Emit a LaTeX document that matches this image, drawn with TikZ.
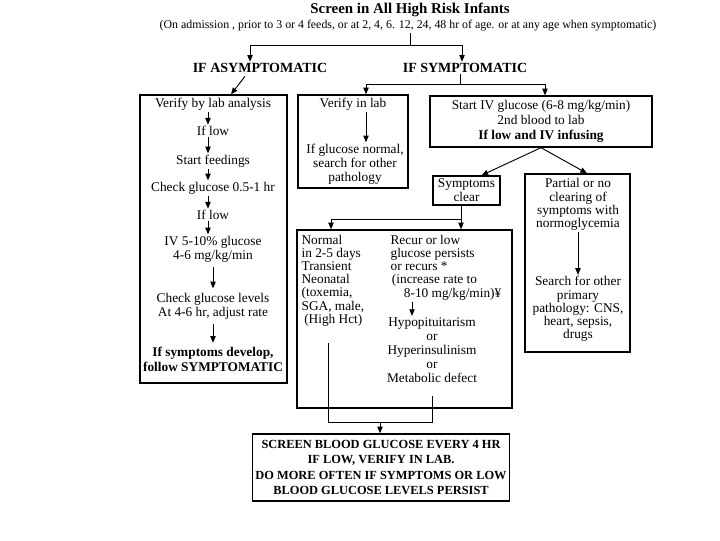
\documentclass[tikz,border=0pt]{standalone}
\usepackage{fontspec}
\setmainfont{Liberation Serif}
\usetikzlibrary{arrows.meta,calc}
\newcommand\bodyf{\fontsize{10}{10.5}\selectfont}
\newcommand\colf{\fontsize{10}{9.9}\selectfont}
\newcommand\titlef{\fontsize{11.2}{13}\selectfont\bfseries}
\newcommand\subf{\fontsize{8.9}{10}\selectfont}
\newcommand\headf{\fontsize{10.5}{12}\selectfont\bfseries}
\newcommand\botf{\fontsize{9.3}{11.5}\selectfont\bfseries}
\begin{document}
\begin{tikzpicture}[x=0.75pt,y=-0.75pt,
  box/.style={draw, line width=1pt, inner sep=2pt, align=center},
  txt/.style={inner sep=1pt, align=center},
  arr/.style={-{Triangle[length=5pt,width=4pt]}, line width=0.7pt},
  ln/.style={line width=0.7pt}]
\useasboundingbox[fill=white] (0,0) rectangle (720,540);

% headings
\node[txt,font=\titlef] (title) at (410,10) {Screen in All High Risk Infants};
\node[txt,font=\subf] (sub) at (408,26) {(On admission , prior to 3 or 4 feeds, or at 2, 4, 6. 12, 24, 48 hr of age. or at any age when symptomatic)};
\node[txt,font=\headf] (asym) at (260,68) {IF ASYMPTOMATIC};
\node[txt,font=\headf] (sym) at (465,68) {IF SYMPTOMATIC};

\coordinate (j1) at (410,45);
\coordinate (aX) at (250,0);
\coordinate (sX) at (462,0);
\draw[ln] (sub.south -| j1) -- (j1);
\draw[arr] (j1) -| (asym.north -| aX);
\draw[arr] (j1) -| (sym.north -| sX);

% boxes
\node[box, minimum width=110.25pt, minimum height=216pt] (lb) at (213.5,239) {};
\node[box, minimum width=82.5pt, minimum height=69.75pt] (vb) at (353,141.5) {};
\node[box, minimum width=166.5pt, minimum height=38.25pt, font=\fontsize{10}{11}\selectfont] (siv) at (541,121.5) {Start IV glucose (6-8 mg/kg/min)\\2nd blood to lab\\{\bfseries If low and IV infusing}};
\node[box, minimum width=50.25pt, minimum height=21.75pt, font=\bodyf] (sc) at (466.5,190.5) {Symptoms\\clear};
\node[box, minimum width=78.75pt, minimum height=133.5pt] (pb) at (577.5,263) {};
\node[box, minimum width=161.25pt, minimum height=133.5pt] (bb) at (404.5,319) {};
\node[box, minimum width=186pt, minimum height=50.25pt, font=\botf] (bot) at (381,467.5) {SCREEN BLOOD GLUCOSE EVERY 4 HR\\IF LOW, VERIFY IN LAB.\\DO MORE OFTEN IF SYMPTOMS OR LOW\\BLOOD GLUCOSE LEVELS PERSIST};

% asymptomatic branch
\draw[arr] ($(asym.south)+(-15,2)$) -- ($(lb.north)+(17.5,0)$);
\node[txt,font=\bodyf] (t1) at (213,104) {Verify by lab analysis};
\node[txt,font=\bodyf] (t2) at (213,131) {If low};
\node[txt,font=\bodyf] (t3) at (213,161) {Start feedings};
\node[txt,font=\bodyf] (t4) at (213,188) {Check glucose 0.5-1 hr};
\node[txt,font=\bodyf] (t5) at (213,215) {If low};
\node[txt,font=\bodyf] (t6) at (213,249) {IV 5-10\% glucose\\4-6 mg/kg/min};
\node[txt,font=\bodyf] (t7) at (213,306) {Check glucose levels\\At 4-6 hr, adjust rate};
\node[txt,font=\fontsize{10}{11}\selectfont\bfseries] (t8) at (213,359.5) {If symptoms develop,\\follow SYMPTOMATIC};
\coordinate (ax) at (208,0);
\draw[arr] (t1.south -| ax) -- (t2.north -| ax);
\draw[arr] (t2.south -| ax) -- (t3.north -| ax);
\draw[arr] (t3.south -| ax) -- (t4.north -| ax);
\draw[arr] (t4.south -| ax) -- (t5.north -| ax);
\draw[arr] (t5.south -| ax) -- (t6.north -| ax);
\draw[arr] ($(t6.south)+(0,3)$) -- ($(t7.north)+(0,-3)$);
\draw[arr] ($(t7.south)+(0,3)$) -- ($(t8.north)+(0,-3)$);

% symptomatic branch
\coordinate (j2) at (460,84);
\coordinate (vX) at (366,0);
\coordinate (iX) at (545,0);
\draw[ln] (sym.south -| j2) -- (j2);
\draw[arr] (j2) -| (vb.north -| vX);
\draw[arr] (j2) -| (siv.north -| iX);

\node[txt,font=\bodyf] (v1) at (353,104) {Verify in lab};
\node[txt,font=\fontsize{10}{10.5}\selectfont] (v2) at (355,164) {If glucose normal,\\search for other\\pathology};
\draw[arr] (v1.south -| vX) -- (v2.north -| vX);

\draw[arr] (siv.south) -- ($(sc.north)+(15,0)$);
\draw[arr] (siv.south) -- ($(pb.north)+(9.5,0)$);

\node[txt,font=\colf] (p1) at (578,204.5) {Partial or no\\clearing of\\symptoms with\\normoglycemia};
\node[txt,font=\colf] (p2) at (578,309) {Search for other\\primary\\pathology: CNS,\\heart, sepsis,\\drugs};
\draw[arr] (p1) -- (p2);

\coordinate (j3) at (461,219);
\coordinate (bX) at (331,0);
\draw[ln] (sc.south -| j3) -- (j3);
\draw[arr] (j3) -- (bb.north -| j3);
\draw[arr] (j3) -| (bb.north -| bX);

\node[txt,font=\colf,align=left,anchor=west] (lc) at (300,280.5) {Normal\\in 2-5 days\\Transient\\Neonatal\\(toxemia,\\SGA, male,\\\hspace*{2pt}(High Hct)};
\node[txt,font=\colf,align=left,anchor=west] (rc) at (389,267.5) {Recur or low\\glucose persists\\or recurs *\\\hspace*{1pt}(increase rate to\\\hspace*{10pt}8-10 mg/kg/min)¥};
\node[txt,font=\bodyf] (hb) at (432,350) {Hypopituitarism\\or\\Hyperinsulinism\\or\\Metabolic defect};
\coordinate (rX) at (412,0);
\draw[arr] (rc.south -| rX) -- (hb.north -| rX);

% merge to bottom
\coordinate (jl) at (328,422);
\coordinate (jr) at (432,422);
\coordinate (jm) at (380,422);
\draw[ln] ($(lc.south -| jl)+(0,15)$) -- (jl) -- (jr) -- ($(hb.south -| jr)+(0,12)$);
\draw[arr] (jm) -- (bot.north -| jm);
\end{tikzpicture}
\end{document}
